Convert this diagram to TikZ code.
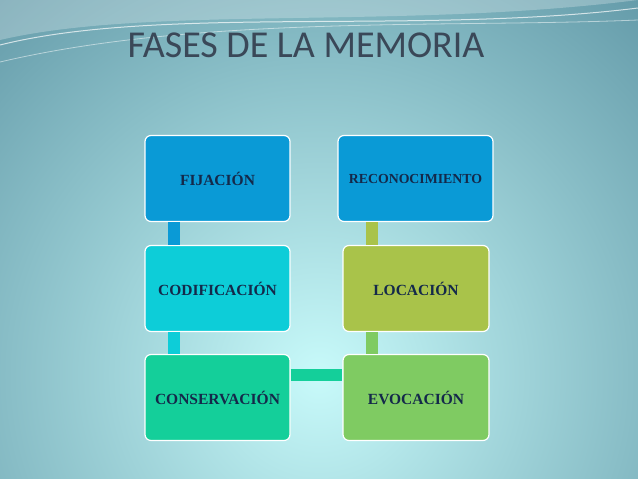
\documentclass[tikz,border=0pt]{standalone}
\usepackage{fontspec}
\setmainfont{Liberation Serif}
\newfontfamily\titlefont{Carlito}
\begin{document}
\begin{tikzpicture}[x=1pt,y=-1pt,
  box/.style={draw=white,line width=1.2pt,rounded corners=6pt,minimum width=#1,minimum height=86pt,inner sep=0pt,font=\bfseries\fontsize{15.5}{16}\selectfont,text=txt},
  bar/.style={line width=12pt}]
\definecolor{txt}{HTML}{14294A}
\definecolor{cb}{HTML}{0A9AD6}
\definecolor{cc}{HTML}{0DCDD8}
\definecolor{cg}{HTML}{14CF9A}
\definecolor{co}{HTML}{A9C34A}
\definecolor{ce}{HTML}{7FCB62}
\useasboundingbox (0,0) rectangle (638,479);
\shade[inner color={rgb,255:red,200;green,250;blue,250}, outer color={rgb,255:red,95;green,150;blue,165}] (-200,-150) rectangle (838,900);
\fill[white,opacity=0.25] (0,0) -- (0,40) .. controls (150,5) and (400,30) .. (638,0) -- cycle;
\draw[white,opacity=0.7,line width=1pt] (0,45) .. controls (160,5) and (420,35) .. (638,8);
\draw[white,opacity=0.5,line width=0.8pt] (0,62) .. controls (200,15) and (450,28) .. (638,20);
\node[anchor=west,text={rgb,255:red,58;green,72;blue,88},font=\titlefont\fontsize{38}{40}\selectfont] (title) at (124,45) {FASES DE LA MEMORIA};
\node[box=145pt,fill=cb] (fij) at (217.5,178.5) {FIJACIÓN};
\node[box=145pt,fill=cc] (cod) at (217.5,288.5) {CODIFICACIÓN};
\node[box=145pt,fill=cg] (con) at (217.5,397.5) {CONSERVACIÓN};
\node[box=155pt,fill=cb,font=\bfseries\fontsize{13.8}{14}\selectfont] (rec) at (415.5,178.5) {RECONOCIMIENTO};
\node[box=146pt,fill=co] (loc) at (416,288.5) {LOCACIÓN};
\node[box=146pt,fill=ce] (evo) at (416,397.5) {EVOCACIÓN};
\draw[bar,cb] (fij.south -| 174,0) -- (cod.north -| 174,0);
\draw[bar,cc] (cod.south -| 174,0) -- (con.north -| 174,0);
\draw[bar,cg] (con.east |- 0,375) -- (evo.west |- 0,375);
\draw[bar,ce] (evo.north -| 372,0) -- (loc.south -| 372,0);
\draw[bar,co] (loc.north -| 372,0) -- (rec.south -| 372,0);
\end{tikzpicture}
\end{document}
